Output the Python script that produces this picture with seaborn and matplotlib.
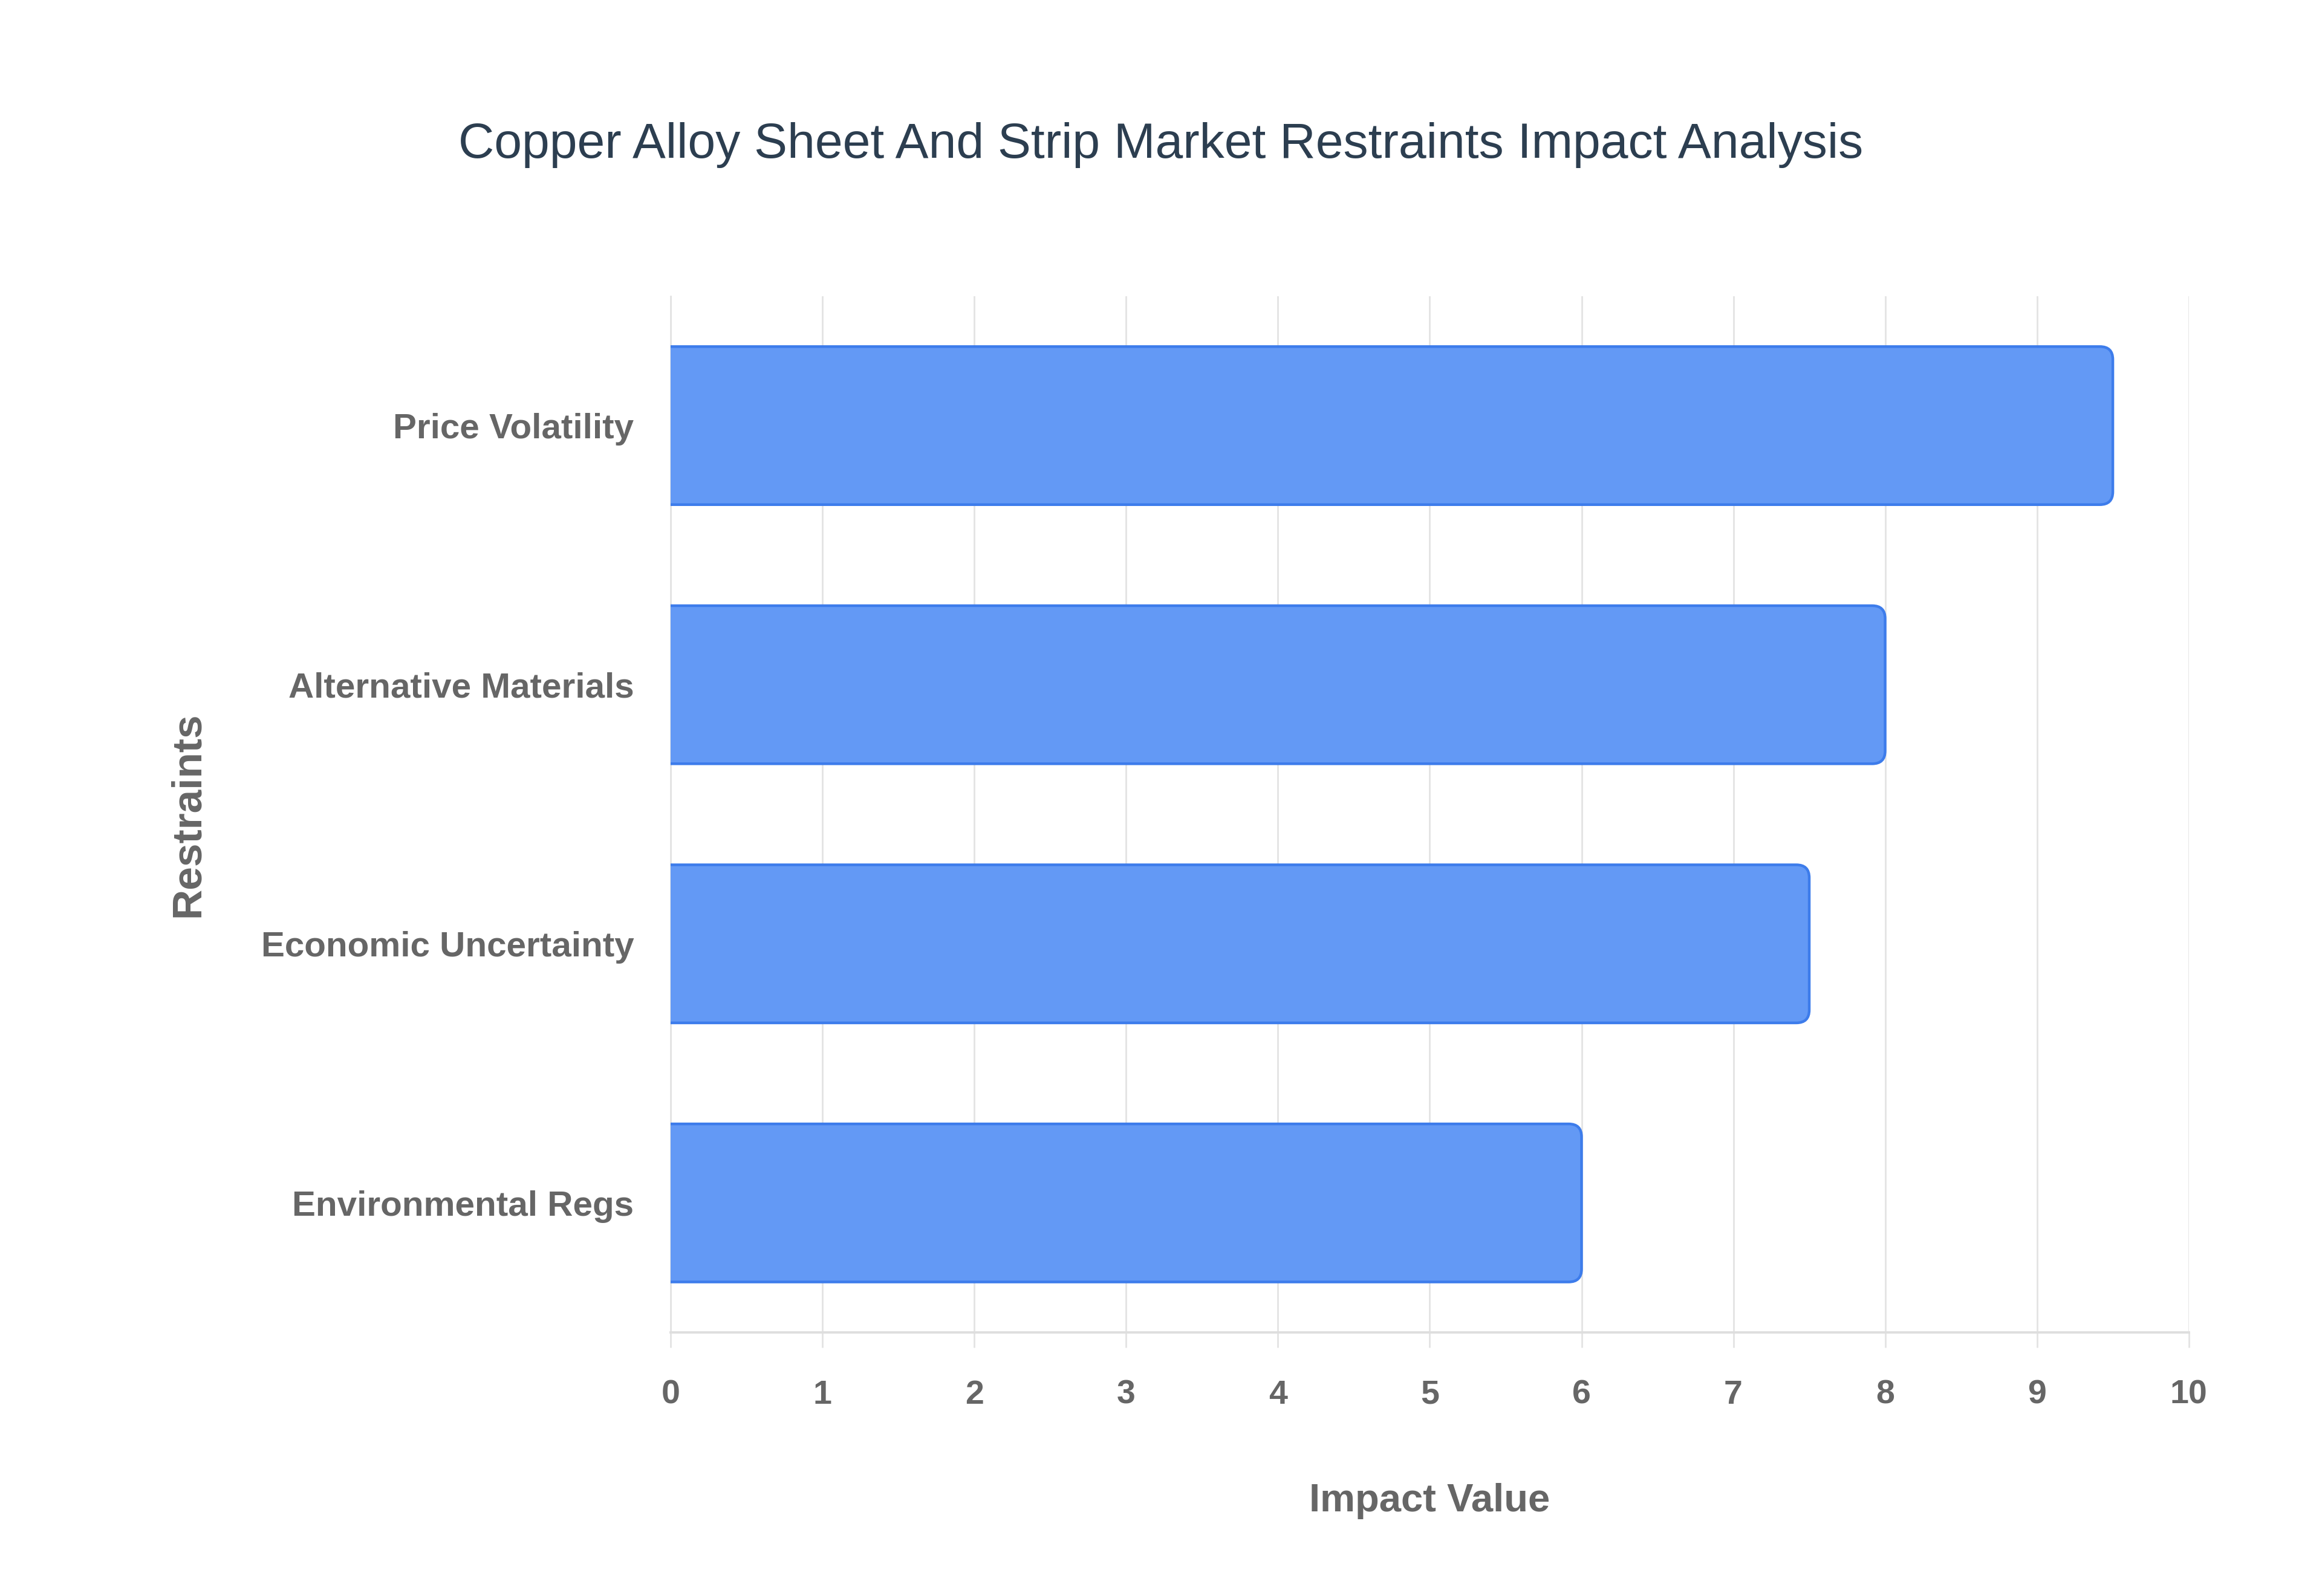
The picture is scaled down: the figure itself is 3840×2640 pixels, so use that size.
import pandas as pd
import seaborn as sns
import matplotlib.pyplot as plt
from matplotlib.patches import FancyBboxPatch

# chart values
restraints = ["Price Volatility", "Alternative Materials", "Economic Uncertainty", "Environmental Regs"]
impact = [9.5, 8.0, 7.5, 6.0]
xticks = list(range(0, 11))

df = pd.DataFrame({"restraint": restraints, "impact": impact})

sns.set_theme(style="white")
plt.rcParams["font.family"] = ["Liberation Sans", "DejaVu Sans"]

fig = plt.figure(figsize=(19.2, 13.2), dpi=200)
ax = fig.add_axes([0.2889, 0.1651, 0.6537, 0.6494])

bar_fill = "#6399f5"
bar_edge = "#3d7ceb"
grid_col = "#e3e3e3"
label_col = "#666666"

sns.barplot(data=df, x="impact", y="restraint", orient="h", order=restraints,
            color=bar_fill, width=0.61, saturation=1, ax=ax)

ax.set_xlim(0, 10)
ax.set_ylim(3.5, -0.5)

# swap the plain rectangles for ones with rounded right ends
x_per_px = 10 / (0.6537 * 3840)
y_per_px = 4 / (0.6494 * 2640)
aspect = y_per_px / x_per_px
for bar in list(ax.patches):
    x0, y0 = bar.get_x(), bar.get_y()
    w, h = bar.get_width(), bar.get_height()
    bar.set_visible(False)
    pad = 0.3
    rounded = FancyBboxPatch((x0 - pad, y0), w + pad, h,
                             boxstyle="round,pad=0,rounding_size=0.085",
                             mutation_aspect=aspect,
                             facecolor=bar_fill, edgecolor=bar_edge,
                             linewidth=1.6, zorder=3)
    ax.add_patch(rounded)

ax.set_xticks(xticks)
ax.xaxis.grid(True, color=grid_col, linewidth=1.0, zorder=0)
ax.yaxis.grid(False)
ax.set_axisbelow(True)

for side in ["top", "right"]:
    ax.spines[side].set_visible(False)
ax.spines["left"].set_color(grid_col)
ax.spines["left"].set_linewidth(1.0)
ax.spines["bottom"].set_color("#dedede")
ax.spines["bottom"].set_linewidth(1.4)

ax.tick_params(axis="x", length=9, width=1.0, color=grid_col, pad=19,
               labelsize=20, labelcolor=label_col, bottom=True)
ax.tick_params(axis="y", length=0, pad=22, labelsize=21, labelcolor=label_col)
for lab in ax.get_xticklabels() + ax.get_yticklabels():
    lab.set_fontweight("bold")

ax.set_xlabel("Impact Value", fontsize=23.5, fontweight="bold", color=label_col, labelpad=43)
ax.set_ylabel("Restraints", fontsize=25, fontweight="bold", color=label_col, labelpad=32)

fig.text(0.5, 0.909, "Copper Alloy Sheet And Strip Market Restraints Impact Analysis",
         ha="center", va="center", fontsize=29.6, color="#2c3e50")

fig.savefig("out.png", dpi=200, facecolor="white")
